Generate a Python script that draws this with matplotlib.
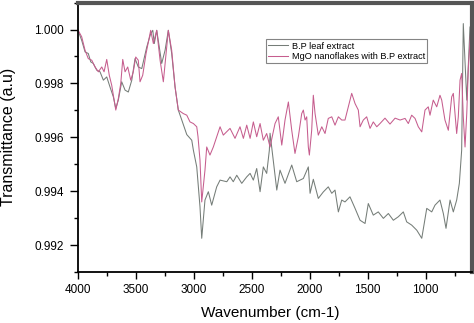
import matplotlib
matplotlib.use("Agg")
import matplotlib.pyplot as plt
from matplotlib.ticker import MultipleLocator

plt.rcParams['font.family'] = ['Liberation Sans', 'DejaVu Sans']

# B.P leaf extract (wavenumber cm-1, transmittance)
leaf_wn = [4000, 3966, 3937, 3909, 3888, 3866, 3836, 3808, 3779, 3750, 3722, 3693,
           3672, 3650, 3621, 3592, 3564, 3534, 3506, 3478, 3448, 3405, 3371, 3353,
           3340, 3319, 3297, 3276, 3247, 3219, 3190, 3161, 3133, 3103, 3060, 3017,
           3003, 2974, 2946, 2931, 2903, 2874, 2845, 2802, 2773, 2715, 2687, 2659,
           2629, 2586, 2543, 2514, 2486, 2457, 2428, 2400, 2371, 2348, 2342, 2328,
           2284, 2256, 2213, 2155, 2112, 2055, 2012, 1997, 1969, 1926, 1883, 1840,
           1810, 1782, 1753, 1724, 1696, 1653, 1609, 1566, 1523, 1495, 1452, 1409,
           1365, 1322, 1279, 1236, 1193, 1164, 1121, 1077, 1034, 991, 948, 920,
           877, 848, 825, 790, 762, 733, 710, 690, 676, 646, 618, 603]
leaf_t = [1.00000, 0.99960, 0.99917, 0.99911, 0.99880, 0.99874, 0.99849, 0.99843,
          0.99812, 0.99824, 0.99787, 0.99750, 0.99707, 0.99738, 0.99806, 0.99775,
          0.99768, 0.99812, 0.99892, 0.99861, 0.99855, 0.99935, 0.99985, 0.99997,
          0.99948, 0.99997, 0.99935, 0.99874, 0.99923, 0.99997, 0.99911, 0.99787,
          0.99701, 0.99664, 0.99610, 0.99589, 0.99552, 0.99490, 0.99342, 0.99225,
          0.99367, 0.99398, 0.99348, 0.99416, 0.99441, 0.99435, 0.99453, 0.99435,
          0.99459, 0.99429, 0.99453, 0.99466, 0.99441, 0.99484, 0.99398, 0.99490,
          0.99466, 0.99552, 0.99615, 0.99564, 0.99404, 0.99478, 0.99429, 0.99497,
          0.99435, 0.99447, 0.99490, 0.99392, 0.99444, 0.99373, 0.99397, 0.99416,
          0.99392, 0.99404, 0.99323, 0.99367, 0.99360, 0.99379, 0.99336, 0.99292,
          0.99280, 0.99354, 0.99311, 0.99323, 0.99299, 0.99317, 0.99292, 0.99305,
          0.99323, 0.99286, 0.99274, 0.99255, 0.99225, 0.99336, 0.99323, 0.99348,
          0.99367, 0.99317, 0.99262, 0.99367, 0.99323, 0.99367, 0.99429, 0.99552,
          1.00022, 0.99738, 1.00010, 0.99949]

# MgO nanoflakes with B.P extract
mgo_wn = [4000, 3966, 3937, 3909, 3879, 3851, 3822, 3793, 3773, 3750, 3728, 3707,
          3672, 3650, 3629, 3612, 3592, 3569, 3543, 3521, 3500, 3478, 3463, 3440,
          3411, 3371, 3348, 3319, 3290, 3262, 3219, 3190, 3161, 3133, 3090, 3060,
          3032, 3003, 2974, 2963, 2946, 2931, 2903, 2888, 2860, 2831, 2773, 2745,
          2687, 2644, 2601, 2572, 2543, 2514, 2486, 2457, 2428, 2400, 2371, 2342,
          2299, 2271, 2241, 2213, 2184, 2155, 2127, 2098, 2069, 2055, 2040, 2026,
          2012, 2003, 1983, 1969, 1954, 1926, 1896, 1868, 1840, 1810, 1782, 1753,
          1724, 1696, 1667, 1638, 1609, 1581, 1566, 1538, 1509, 1480, 1452, 1422,
          1394, 1351, 1308, 1264, 1221, 1178, 1150, 1121, 1092, 1064, 1034, 1006,
          978, 963, 935, 905, 877, 862, 834, 805, 776, 762, 747, 733, 719, 704,
          690, 676, 661, 646, 632, 612, 603]
mgo_t = [1.00000, 0.99973, 0.99923, 0.99892, 0.99886, 0.99861, 0.99843, 0.99861,
         0.99843, 0.99889, 0.99830, 0.99793, 0.99701, 0.99744, 0.99800, 0.99889,
         0.99843, 0.99861, 0.99812, 0.99843, 0.99898, 0.99886, 0.99806, 0.99830,
         0.99911, 0.99997, 0.99948, 0.99997, 0.99886, 0.99806, 0.99997, 0.99923,
         0.99787, 0.99701, 0.99688, 0.99682, 0.99657, 0.99651, 0.99639, 0.99602,
         0.99515, 0.99360, 0.99478, 0.99564, 0.99534, 0.99564, 0.99639, 0.99608,
         0.99633, 0.99596, 0.99639, 0.99596, 0.99645, 0.99596, 0.99657, 0.99602,
         0.99651, 0.99589, 0.99614, 0.99564, 0.99651, 0.99676, 0.99571, 0.99664,
         0.99731, 0.99626, 0.99540, 0.99602, 0.99688, 0.99701, 0.99664, 0.99676,
         0.99564, 0.99534, 0.99626, 0.99756, 0.99688, 0.99608, 0.99639, 0.99614,
         0.99670, 0.99676, 0.99645, 0.99676, 0.99664, 0.99664, 0.99713, 0.99763,
         0.99725, 0.99701, 0.99639, 0.99664, 0.99676, 0.99633, 0.99657, 0.99639,
         0.99651, 0.99671, 0.99649, 0.99671, 0.99664, 0.99670, 0.99651, 0.99682,
         0.99670, 0.99639, 0.99620, 0.99701, 0.99713, 0.99682, 0.99738, 0.99713,
         0.99756, 0.99738, 0.99664, 0.99626, 0.99750, 0.99763, 0.99688, 0.99614,
         0.99676, 0.99812, 0.99837, 0.99676, 0.99564, 0.99689, 0.99861, 0.99997,
         0.99942]

fig = plt.figure(figsize=(4.74, 3.23), dpi=100)
ax = fig.add_axes([0.164, 0.158, 0.832, 0.834])

ax.plot(leaf_wn, leaf_t, color="#757d78", linewidth=0.75, label="B.P leaf extract")
ax.plot(mgo_wn, mgo_t, color="#c65d8e", linewidth=0.75,
        label="MgO nanoflakes with B.P extract")

ax.set_xlim(4000, 600)
ax.set_ylim(0.991, 1.001)
ax.xaxis.set_major_locator(MultipleLocator(500))
ax.xaxis.set_minor_locator(MultipleLocator(250))
ax.yaxis.set_major_locator(MultipleLocator(0.002))
ax.yaxis.set_minor_locator(MultipleLocator(0.001))
ax.yaxis.set_major_formatter(plt.FormatStrFormatter("%.3f"))
ax.tick_params(which="major", direction="out", length=5, width=1, labelsize=8.5)
ax.tick_params(axis="y", which="major", length=6, pad=4)
ax.tick_params(which="minor", direction="out", length=3, width=1)

for s in ["left", "bottom"]:
    ax.spines[s].set_linewidth(1.3)
    ax.spines[s].set_color("black")
for s in ["top", "right"]:
    ax.spines[s].set_linewidth(3)
    ax.spines[s].set_color("#555555")

ax.set_xlabel("Wavenumber (cm-1)", fontsize=11)
ax.xaxis.set_label_coords(0.488, -0.128)
ax.set_ylabel("Transmittance (a.u)", fontsize=11.5)
ax.yaxis.set_label_coords(-0.157, 0.5)

leg = ax.legend(loc="upper left", bbox_to_anchor=(0.4776, 0.8634),
                borderaxespad=0, fontsize=6.6, frameon=True, fancybox=False,
                handlelength=2.1, handletextpad=0.45, borderpad=0.25,
                labelspacing=0.15)
leg.get_frame().set_edgecolor("#666666")
leg.get_frame().set_linewidth(0.8)

fig.savefig("out.png", dpi=100)
